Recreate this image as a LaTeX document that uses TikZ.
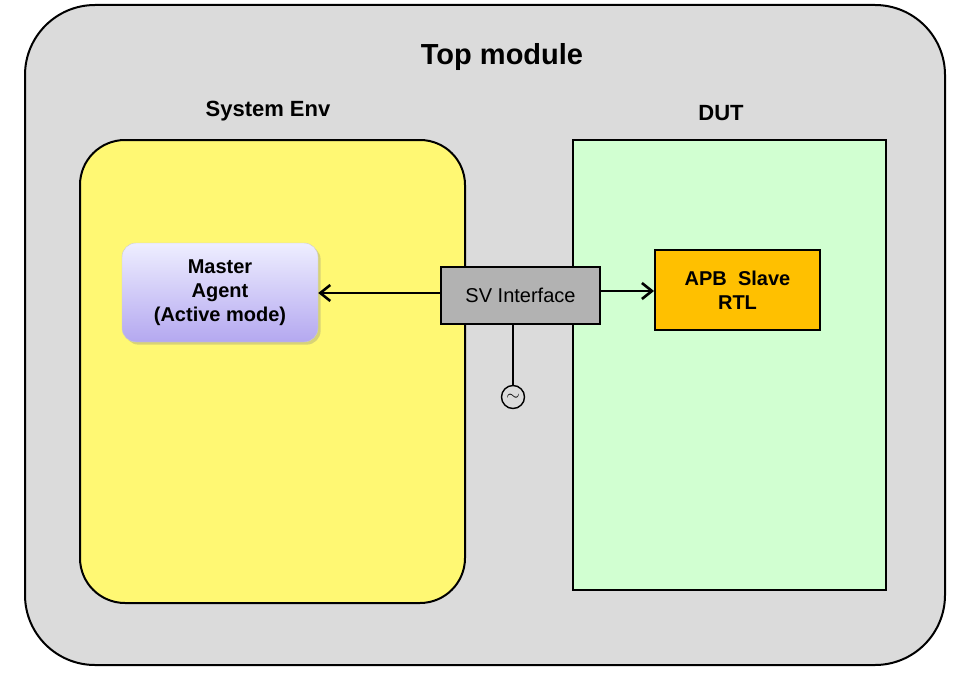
\documentclass[tikz,border=0pt]{standalone}
\usepackage{fontspec}
\setmainfont{Liberation Sans}
\usetikzlibrary{arrows.meta,shadows}
\definecolor{apbc}{HTML}{FFC000}
\definecolor{matop}{HTML}{EEEEFF}
\definecolor{mabot}{HTML}{B4A8F0}
\begin{document}
\begin{tikzpicture}[x=1pt,y=-1pt,
  lbl/.style={font=\bfseries\fontsize{22}{24}\selectfont},
  box/.style={draw=black,line width=2pt},
  txt/.style={font=\bfseries\fontsize{20}{24}\selectfont,align=center},
  arr/.style={-{Straight Barb[length=10pt,width=16pt]},line width=2.6pt}]
\useasboundingbox (0,0) rectangle (955,677);
\draw[box,fill=black!14,rounded corners=70pt] (25,5) rectangle (945,665);
\node[font=\bfseries\fontsize{29}{31}\selectfont] (title) at (502,57) {Top module};
\draw[box,fill=yellow!55!white,rounded corners=45pt] (80,140) rectangle (465,603);
\node[lbl] (envl) at (268,111) {System Env};
\draw[box,fill=green!18!white] (573,140) rectangle (886,590);
\node[lbl] (dutl) at (721,113) {DUT};
\node[txt,draw=black!20,rounded corners=14pt,top color=matop,bottom color=mabot,
  minimum width=196pt,minimum height=99pt,drop shadow={opacity=0.3}] (ma) at (220,292.5)
  {Master\\Agent\\(Active mode)};
\node[txt,draw=black,line width=2pt,fill=apbc,minimum width=165pt,minimum height=80pt] (apb) at (737.5,290) {APB\ \ Slave\\RTL};
\node[draw=black,line width=2pt,fill=black!30,minimum width=159pt,minimum height=57pt,font=\fontsize{20}{22}\selectfont] (sv) at (520.5,295.5) {SV Interface};
\node[draw=black,line width=1.4pt,circle,minimum size=23pt,inner sep=0pt,font=\bfseries\fontsize{16}{16}\selectfont] (clk) at (513,397) {$\sim$};
\draw[line width=2pt] (clk.north |- sv.south) -- (clk.north);
\draw[arr] (sv.west |- 0,293) -- (ma.east |- 0,293);
\draw[arr] (sv.east |- 0,291) -- (apb.west |- 0,291);
\end{tikzpicture}
\end{document}
